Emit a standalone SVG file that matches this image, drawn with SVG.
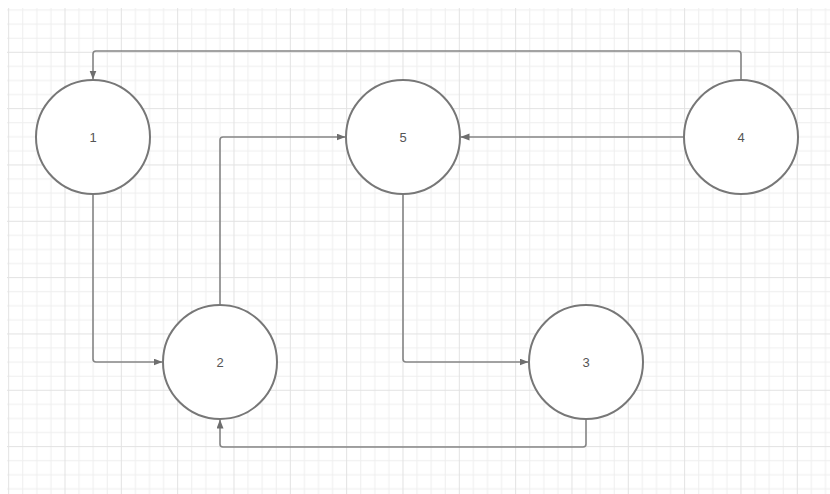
<svg xmlns="http://www.w3.org/2000/svg" width="830" height="494" viewBox="0 0 830 494">
  <style>
    .node circle { fill: #ffffff; stroke: #777777; stroke-width: 2; }
    .node text { font-family: "Liberation Sans", Arial, sans-serif; font-size: 13px; fill: #555555; text-anchor: middle; dominant-baseline: central; }
    .edge { fill: none; stroke: #858585; stroke-width: 1.6; marker-end: url(#arrow); }
  </style>
  <defs>
    <pattern id="grid" patternUnits="userSpaceOnUse" x="8.17" y="-4.53" width="56.33" height="56.33">
      <rect x="14.08" y="0" width="1" height="56.33" fill="#eeeeee"/>
      <rect x="28.17" y="0" width="1" height="56.33" fill="#eeeeee"/>
      <rect x="42.25" y="0" width="1" height="56.33" fill="#eeeeee"/>
      <rect x="0" y="14.08" width="56.33" height="1" fill="#eeeeee"/>
      <rect x="0" y="28.17" width="56.33" height="1" fill="#eeeeee"/>
      <rect x="0" y="42.25" width="56.33" height="1" fill="#eeeeee"/>
      <rect x="0" y="0" width="1" height="56.33" fill="#e2e2e2"/>
      <rect x="0" y="0" width="56.33" height="1" fill="#e2e2e2"/>
    </pattern>
    <marker id="arrow" markerUnits="userSpaceOnUse" markerWidth="9" markerHeight="8" refX="8.5" refY="3.5" orient="auto">
      <path d="M0,0 L9,3.5 L0,7 Z" fill="#6e6e6e"/>
    </marker>
  </defs>
  <rect x="0" y="0" width="830" height="494" fill="#ffffff"/>
  <rect x="7" y="8" width="823" height="486" fill="url(#grid)"/>

  <g id="connectors">
    <path id="e4-1" class="edge" d="M741,80 V54 Q741,51 738,51 H96 Q93,51 93,54 V79"/>
    <path id="e1-2" class="edge" d="M93,194 V359 Q93,362 96,362 H162"/>
    <path id="e2-5" class="edge" d="M220,305 V140 Q220,137 223,137 H345"/>
    <path id="e4-5" class="edge" d="M684,137 H461"/>
    <path id="e5-3" class="edge" d="M403,194 V359 Q403,362 406,362 H528"/>
    <path id="e3-2" class="edge" d="M586,419 V444 Q586,447 583,447 H223 Q220,447 220,444 V420"/>
  </g>

  <g id="node1" class="node"><circle cx="93" cy="137" r="57"/><text x="93" y="137">1</text></g>
  <g id="node2" class="node"><circle cx="220" cy="362" r="57"/><text x="220" y="362">2</text></g>
  <g id="node3" class="node"><circle cx="586" cy="362" r="57"/><text x="586" y="362">3</text></g>
  <g id="node4" class="node"><circle cx="741" cy="137" r="57"/><text x="741" y="137">4</text></g>
  <g id="node5" class="node"><circle cx="403" cy="137" r="57"/><text x="403" y="137">5</text></g>
</svg>
